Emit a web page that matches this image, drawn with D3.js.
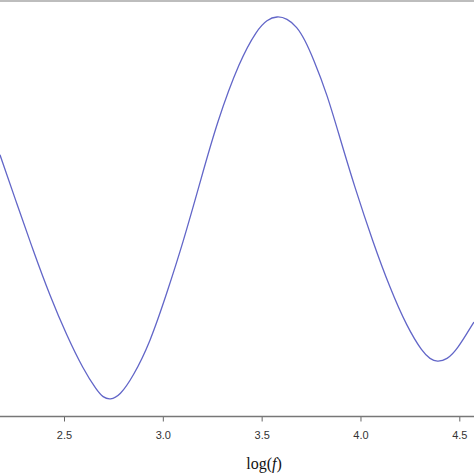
<!DOCTYPE html>
<html><head><meta charset="utf-8">
<script src="https://cdn.jsdelivr.net/npm/d3@7"></script>
<style>html,body{margin:0;padding:0;background:#fff;overflow:hidden}</style>
</head><body>
<svg id="c" width="474" height="474"></svg>
<script>
const logF = [2.176,2.262,2.343,2.429,2.515,2.596,2.667,2.697,2.733,2.783,2.849,2.935,3.021,3.102,3.188,3.274,3.390,3.476,3.527,3.578,3.628,3.679,3.719,3.760,3.831,3.896,3.972,4.063,4.149,4.235,4.316,4.352,4.387,4.438,4.488,4.574];
const response = [0.653,0.530,0.415,0.300,0.200,0.118,0.063,0.047,0.040,0.051,0.098,0.183,0.308,0.433,0.583,0.735,0.890,0.965,0.991,1.000,0.994,0.973,0.940,0.895,0.805,0.695,0.570,0.435,0.320,0.223,0.158,0.143,0.135,0.141,0.165,0.235];
const xTicks = [2.5,3.0,3.5,4.0,4.5];

const svg = d3.select("#c");
const x = d3.scaleLinear().domain([2.5,4.5]).range([64,459.3]);
const y = d3.scaleLinear().domain([0,1]).range([416,16]);

// top frame line
svg.append("line").attr("x1",0).attr("x2",474).attr("y1",1).attr("y2",1)
  .attr("stroke","#bdbdbd").attr("stroke-width",2);

const ax = svg.append("g").attr("transform","translate(0,416.5)")
  .call(d3.axisBottom(x).tickValues(xTicks).tickFormat(d3.format(".1f")).tickSizeOuter(0).tickSize(5).tickPadding(10));
ax.select(".domain").remove();
ax.append("line").attr("x1",0).attr("x2",474).attr("stroke","#777").attr("stroke-width",1.6);
ax.selectAll(".tick line").attr("stroke","#666").attr("stroke-width",1);
ax.selectAll(".tick text").attr("font-family","Liberation Sans, Arial, sans-serif").attr("font-size",11).attr("fill","#333");

const data = logF.map((v,i)=>({x:v,y:response[i]}));
svg.append("path").datum(data)
  .attr("fill","none").attr("stroke","#6266c8").attr("stroke-width",1.3)
  .attr("d", d3.line().x(d=>x(d.x)).y(d=>y(d.y)).curve(d3.curveBasis));

const t = svg.append("text").attr("x",264).attr("y",469).attr("text-anchor","middle")
  .attr("font-family","Liberation Serif, Times New Roman, serif").attr("font-size",16).attr("fill","#111");
t.append("tspan").text("log(");
t.append("tspan").attr("font-style","italic").text("f");
t.append("tspan").text(")");
</script>
</body></html>
